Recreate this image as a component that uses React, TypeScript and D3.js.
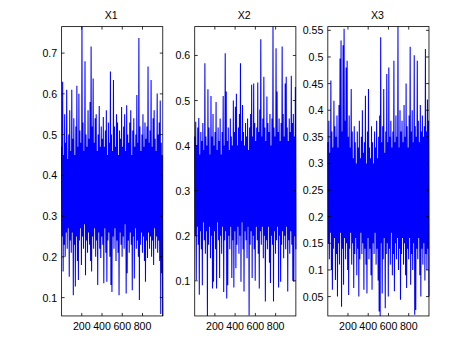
import React from "react";
import * as d3 from "d3";

const W = 474;
const H = 355;

const titles = ["X1", "X2", "X3"];
const xTicks = [200, 400, 600, 800];
const yTicks1 = [0.1, 0.2, 0.3, 0.4, 0.5, 0.6, 0.7];
const yTicks2 = [0.1, 0.2, 0.3, 0.4, 0.5, 0.6];
const yTicks3 = [0.05, 0.1, 0.15, 0.2, 0.25, 0.3, 0.35, 0.4, 0.45, 0.5, 0.55];
const yTickLabels3 = ["0.05", "0.1", "0.15", "0.2", "0.25", "0.3", "0.35", "0.4", "0.45", "0.5", "0.55"];

const x1 = [
  0.47,0.25, 0.63,0.164, 0.45,0.23, 0.55,0.20, 0.48,0.26, 0.61,0.22, 0.44,0.27, 0.50,0.151, 0.56,0.24, 0.46,0.21,
  0.61,0.26, 0.49,0.106, 0.54,0.23, 0.45,0.127, 0.52,0.25, 0.62,0.19, 0.47,0.143, 0.60,0.24, 0.51,0.27, 0.48,0.18,
  0.765,0.25, 0.53,0.22, 0.46,0.28, 0.68,0.155, 0.50,0.24, 0.47,0.21, 0.56,0.26, 0.49,0.23, 0.58,0.19, 0.716,0.164,
  0.52,0.25, 0.638,0.22, 0.48,0.27, 0.54,0.20, 0.55,0.24, 0.46,0.131, 0.50,0.26, 0.57,0.22, 0.47,0.197, 0.52,0.25,
  0.49,0.23, 0.543,0.135, 0.47,0.27, 0.51,0.21, 0.56,0.139, 0.45,0.24, 0.53,0.26, 0.48,0.20, 0.655,0.131, 0.50,0.114,
  0.46,0.25, 0.634,0.22, 0.52,0.27, 0.47,0.19, 0.55,0.24, 0.53,0.21, 0.45,0.106, 0.51,0.26, 0.49,0.23, 0.568,0.20,
  0.47,0.25, 0.52,0.22, 0.55,0.28, 0.46,0.110, 0.572,0.16, 0.50,0.24, 0.48,0.21, 0.53,0.26, 0.56,0.23, 0.45,0.118,
  0.51,0.25, 0.54,0.147, 0.47,0.27, 0.50,0.22, 0.597,0.24, 0.48,0.20, 0.737,0.094, 0.52,0.23, 0.46,0.26, 0.50,0.21,
  0.55,0.25, 0.47,0.19, 0.53,0.139, 0.49,0.24, 0.52,0.197, 0.667,0.26, 0.48,0.22, 0.51,0.25, 0.634,0.20, 0.47,0.24,
  0.54,0.18, 0.56,0.27, 0.49,0.22, 0.46,0.25, 0.601,0.21, 0.50,0.24, 0.53,0.19, 0.584,0.06, 0.48,0.16, 0.45,0.055,
];

const x2 = [
  0.42,0.20, 0.453,0.102, 0.40,0.22, 0.44,0.18, 0.461,0.069, 0.38,0.21, 0.43,0.17, 0.41,0.09, 0.45,0.23, 0.39,0.19,
  0.583,0.16, 0.42,0.21, 0.40,0.022, 0.525,0.18, 0.44,0.22, 0.38,0.15, 0.51,0.20, 0.42,0.083, 0.47,0.098, 0.40,0.21,
  0.43,0.17, 0.497,0.083, 0.39,0.23, 0.44,0.19, 0.41,0.106, 0.46,0.20, 0.38,0.16, 0.43,0.22, 0.51,0.075, 0.40,0.19,
  0.605,0.21, 0.52,0.061, 0.41,0.09, 0.44,0.20, 0.39,0.17, 0.46,0.22, 0.42,0.106, 0.40,0.19, 0.50,0.085, 0.43,0.21,
  0.486,0.128, 0.515,0.18, 0.40,0.22, 0.44,0.16, 0.47,0.20, 0.583,0.098, 0.41,0.23, 0.49,0.17, 0.43,0.076, 0.40,0.21,
  0.45,0.19, 0.42,0.15, 0.46,0.22, 0.39,0.023, 0.44,0.18, 0.47,0.21, 0.535,0.106, 0.42,0.20, 0.538,0.17, 0.45,0.10,
  0.41,0.22, 0.44,0.19, 0.54,0.16, 0.43,0.083, 0.48,0.21, 0.636,0.18, 0.42,0.22, 0.46,0.15, 0.553,0.20, 0.44,0.054,
  0.41,0.19, 0.509,0.17, 0.45,0.22, 0.43,0.14, 0.47,0.095, 0.40,0.20, 0.46,0.18, 0.664,0.054, 0.44,0.21, 0.42,0.16,
  0.616,0.19, 0.52,0.22, 0.43,0.085, 0.46,0.20, 0.41,0.098, 0.45,0.18, 0.62,0.21, 0.47,0.15, 0.42,0.20, 0.538,0.17,
  0.553,0.22, 0.44,0.076, 0.41,0.19, 0.46,0.16, 0.43,0.21, 0.555,0.18, 0.45,0.10, 0.47,0.098, 0.42,0.20, 0.53,0.17,
];

const x3 = [
  0.34,0.15, 0.38,0.12, 0.32,0.17, 0.456,0.10, 0.36,0.063, 0.33,0.14, 0.418,0.16, 0.37,0.081, 0.35,0.13, 0.39,0.05,
  0.33,0.15, 0.41,0.11, 0.497,0.17, 0.531,0.031, 0.36,0.14, 0.522,0.072, 0.553,0.16, 0.38,0.12, 0.48,0.15, 0.493,0.10,
  0.35,0.053, 0.39,0.14, 0.33,0.17, 0.44,0.11, 0.36,0.15, 0.31,0.066, 0.37,0.13, 0.34,0.16, 0.30,0.09, 0.36,0.14,
  0.33,0.05, 0.38,0.12, 0.31,0.17, 0.35,0.13, 0.40,0.15, 0.32,0.063, 0.34,0.14, 0.427,0.11, 0.30,0.056, 0.36,0.16,
  0.44,0.12, 0.33,0.14, 0.31,0.09, 0.37,0.063, 0.34,0.15, 0.30,0.13, 0.36,0.17, 0.33,0.11, 0.38,0.14, 0.31,0.08,
  0.35,0.022, 0.39,0.0136, 0.537,0.15, 0.34,0.056, 0.37,0.12, 0.44,0.16, 0.32,0.028, 0.36,0.13, 0.468,0.15, 0.34,0.05,
  0.48,0.14, 0.35,0.11, 0.38,0.17, 0.33,0.09, 0.36,0.13, 0.493,0.06, 0.34,0.15, 0.39,0.12, 0.35,0.16, 0.557,0.10,
  0.33,0.14, 0.40,0.044, 0.36,0.13, 0.38,0.16, 0.34,0.11, 0.41,0.15, 0.35,0.09, 0.45,0.066, 0.37,0.14, 0.33,0.12,
  0.39,0.16, 0.519,0.072, 0.36,0.13, 0.40,0.10, 0.34,0.15, 0.503,0.016, 0.37,0.025, 0.35,0.14, 0.493,0.12, 0.38,0.16,
  0.34,0.09, 0.41,0.05, 0.36,0.14, 0.39,0.11, 0.35,0.15, 0.37,0.08, 0.515,0.13, 0.36,0.10, 0.42,0.14, 0.38,0.05,
];

const seriesList = [x1, x2, x3];
const yTickSets = [yTicks1, yTicks2, yTicks3];
const yLabelSets = [yTicks1.map(String), yTicks2.map(String), yTickLabels3];

const FONT = "'Liberation Sans', Arial, Helvetica, sans-serif";
const FS = 10.6;

const axLefts = [0.13 * W, 0.4108 * W, 0.6916 * W];
const axW = 0.2134 * W;
const axBottom = H - 0.11 * H;
const axH = 0.815 * H;
const axTop = axBottom - axH;
const TL = 3;

function Panel({ k }: { k: number }) {
  const data = seriesList[k];
  const n = data.length;
  const left = axLefts[k];
  const right = left + axW;
  const x = d3.scaleLinear().domain([1, 1000]).range([left, right]);
  const ext = d3.extent(data) as [number, number];
  const y = d3.scaleLinear().domain(ext).range([axBottom, axTop]);
  const line = d3
    .line<number>()
    .x((_, i) => x(1 + (i * 999) / (n - 1)))
    .y((d) => y(d));
  const path = line(data) || "";
  const yt = yTickSets[k];
  const yl = yLabelSets[k];
  return (
    <g>
      <path d={path} fill="none" stroke="#0000ff" strokeWidth={1.05} strokeLinejoin="bevel" />
      <rect x={left} y={axTop} width={axW} height={axH} fill="none" stroke="#000" strokeWidth={0.8} />
      {yt.map((t, i) => (
        <g key={"y" + i}>
          <line x1={left} x2={left + TL} y1={y(t)} y2={y(t)} stroke="#000" strokeWidth={0.8} />
          <line x1={right} x2={right - TL} y1={y(t)} y2={y(t)} stroke="#000" strokeWidth={0.8} />
          <text
            x={left - 4.5}
            y={y(t)}
            textAnchor="end"
            dominantBaseline="central"
            fontFamily={FONT}
            fontSize={FS}
            fill="#000"
          >
            {yl[i]}
          </text>
        </g>
      ))}
      {xTicks.map((t, i) => (
        <g key={"x" + i}>
          <line x1={x(t)} x2={x(t)} y1={axBottom} y2={axBottom - TL} stroke="#000" strokeWidth={0.8} />
          <line x1={x(t)} x2={x(t)} y1={axTop} y2={axTop + TL} stroke="#000" strokeWidth={0.8} />
          <text x={x(t)} y={axBottom + 14} textAnchor="middle" fontFamily={FONT} fontSize={FS} fill="#000">
            {String(t)}
          </text>
        </g>
      ))}
      <text x={(left + right) / 2 - 1} y={18.5} textAnchor="middle" fontFamily={FONT} fontSize={FS} fill="#000">
        {titles[k]}
      </text>
    </g>
  );
}

export default function App() {
  return (
    <svg
      width={W}
      height={H}
      viewBox={`0 0 ${W} ${H}`}
      style={{ position: "absolute", left: 0, top: 0, background: "#fff" }}
    >
      <rect x={0} y={0} width={W} height={H} fill="#fff" />
      {[0, 1, 2].map((k) => (
        <Panel key={k} k={k} />
      ))}
    </svg>
  );
}
